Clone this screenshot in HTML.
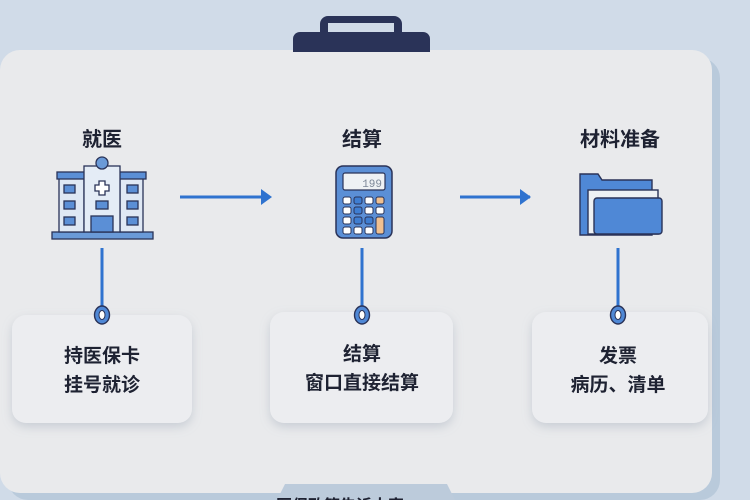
<!DOCTYPE html>
<html><head><meta charset="utf-8"><style>
body{margin:0;width:750px;height:500px;overflow:hidden;background:#cfdae8;font-family:"Liberation Sans","Noto Sans CJK SC",sans-serif;}
svg{position:absolute;left:0;top:0}
.t{font-family:"Liberation Sans","Noto Sans CJK SC",sans-serif;font-weight:bold;fill:#1e2232;text-anchor:middle}
</style></head><body>
<svg width="750" height="500" viewBox="0 0 750 500">
<defs>
<filter id="sh" x="-20%" y="-20%" width="140%" height="150%"><feDropShadow dx="0" dy="4" stdDeviation="5" flood-color="#8a97aa" flood-opacity="0.35"/></filter>
</defs>
<rect x="0" y="0" width="750" height="500" fill="#d0dbe8"/>
<rect x="8" y="58" width="712" height="442" rx="20" fill="#b9cadb"/>
<rect x="0" y="50" width="712" height="443" rx="20" fill="#e9eaec"/>
<path d="M277 500 L285 484 L447 484 L455 500 Z" fill="#bccbdb"/>
<text x="340" y="511" class="t" font-size="16" font-weight="normal">医保政策告诉大家</text>
<rect x="320" y="16" width="82" height="26" rx="8" fill="#2a3358"/>
<rect x="328" y="23" width="66" height="14" fill="#d0dbe8"/>
<rect x="293" y="32" width="137" height="20" rx="7" fill="#2a3358"/>
<rect x="293" y="44" width="137" height="8" fill="#2a3358"/>
<text x="102" y="146" class="t" font-size="20">就医</text>
<text x="362" y="146" class="t" font-size="20">结算</text>
<text x="620" y="146" class="t" font-size="20">材料准备</text>
<g stroke="#2a3358" stroke-width="1.3">
<rect x="52" y="232" width="101" height="7" fill="#6a9ad8"/>
<rect x="59" y="178" width="25" height="54" fill="#dfe8f4"/>
<rect x="120" y="178" width="23" height="54" fill="#dfe8f4"/>
<rect x="57" y="172" width="28" height="7" fill="#5b8fd6"/>
<rect x="119" y="172" width="27" height="7" fill="#5b8fd6"/>
<rect x="84" y="166" width="36" height="66" fill="#e4ecf6"/>
<circle cx="102" cy="163" r="6" fill="#6a9ad8"/>
<path d="M99 181h6v4h4v6h-4v4h-6v-4h-4v-6h4z" fill="#fff"/>
<rect x="91" y="216" width="22" height="16" fill="#5b8fd6"/>
<rect x="96" y="201" width="12" height="8" fill="#5b8fd6"/>
<rect x="64" y="185" width="11" height="8" fill="#5b8fd6"/><rect x="64" y="201" width="11" height="8" fill="#5b8fd6"/><rect x="64" y="217" width="11" height="8" fill="#5b8fd6"/>
<rect x="127" y="185" width="11" height="8" fill="#5b8fd6"/><rect x="127" y="201" width="11" height="8" fill="#5b8fd6"/><rect x="127" y="217" width="11" height="8" fill="#5b8fd6"/>
</g>
<g stroke="#2f73cf" stroke-width="3"><line x1="180" y1="197" x2="262" y2="197"/><line x1="460" y1="197" x2="530" y2="197"/></g>
<path d="M261 189L272 197L261 205Z" fill="#2f73cf"/>
<path d="M520 189L531 197L520 205Z" fill="#2f73cf"/>
<rect x="336" y="166" width="56" height="72" rx="7" fill="#5b8fd6" stroke="#2a3358" stroke-width="1.5"/>
<rect x="343" y="173" width="42" height="17" rx="2" fill="#eef1f4" stroke="#2a3358" stroke-width="1.2"/>
<text x="382" y="187" font-family="Liberation Mono,monospace" font-size="11" fill="#7d8898" text-anchor="end">199</text>
<g stroke="#2a3358" stroke-width="1">
<rect x="343" y="197" width="8" height="7" rx="2" fill="#fff"/><rect x="354" y="197" width="8" height="7" rx="2" fill="#3f7ed2"/><rect x="365" y="197" width="8" height="7" rx="2" fill="#fff"/><rect x="376" y="197" width="8" height="7" rx="2" fill="#f0c090"/>
<rect x="343" y="207" width="8" height="7" rx="2" fill="#fff"/><rect x="354" y="207" width="8" height="7" rx="2" fill="#3f7ed2"/><rect x="365" y="207" width="8" height="7" rx="2" fill="#fff"/><rect x="376" y="207" width="8" height="7" rx="2" fill="#fff"/>
<rect x="343" y="217" width="8" height="7" rx="2" fill="#fff"/><rect x="354" y="217" width="8" height="7" rx="2" fill="#3f7ed2"/><rect x="365" y="217" width="8" height="7" rx="2" fill="#3f7ed2"/><rect x="376" y="217" width="8" height="17" rx="2" fill="#f0c090"/>
<rect x="343" y="227" width="8" height="7" rx="2" fill="#fff"/><rect x="354" y="227" width="8" height="7" rx="2" fill="#fff"/><rect x="365" y="227" width="8" height="7" rx="2" fill="#fff"/>
</g>
<g stroke="#2a3358" stroke-width="1.4">
<path d="M580 174h18l4 6h50v55h-72z" fill="#4f88d6"/>
<rect x="588" y="190" width="70" height="44" fill="#eef1f4"/>
<rect x="594" y="198" width="68" height="36" rx="3" fill="#4f88d6"/>
</g>
<g stroke="#2f73cf" stroke-width="3"><line x1="102" y1="248" x2="102" y2="306"/><line x1="362" y1="248" x2="362" y2="306"/><line x1="618" y1="248" x2="618" y2="306"/></g>
<rect x="12" y="315" width="180" height="108" rx="14" fill="#ecedf0" filter="url(#sh)"/>
<rect x="270" y="312" width="183" height="111" rx="14" fill="#ecedf0" filter="url(#sh)"/>
<rect x="532" y="312" width="176" height="111" rx="14" fill="#ecedf0" filter="url(#sh)"/>
<g fill="#4f88d6" stroke="#2a3358" stroke-width="1.4">
<ellipse cx="102" cy="315" rx="7.5" ry="9"/><ellipse cx="362" cy="315" rx="7.5" ry="9"/><ellipse cx="618" cy="315" rx="7.5" ry="9"/>
</g>
<g fill="#fff" stroke="#2a3358" stroke-width="1"><ellipse cx="102" cy="315" rx="3" ry="4.5"/><ellipse cx="362" cy="315" rx="3" ry="4.5"/><ellipse cx="618" cy="315" rx="3" ry="4.5"/></g>
<text x="102" y="362" class="t" font-size="19">持医保卡</text>
<text x="102" y="391" class="t" font-size="19">挂号就诊</text>
<text x="362" y="360" class="t" font-size="19">结算</text>
<text x="362" y="389" class="t" font-size="19">窗口直接结算</text>
<text x="618" y="362" class="t" font-size="19">发票</text>
<text x="618" y="391" class="t" font-size="19">病历、清单</text>
</svg>
</body></html>
